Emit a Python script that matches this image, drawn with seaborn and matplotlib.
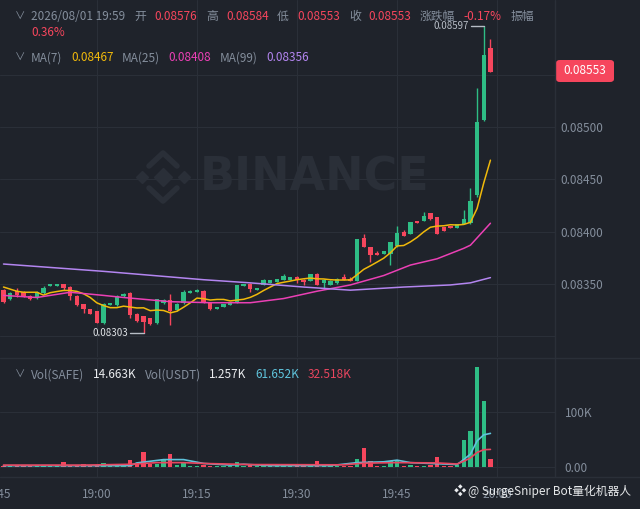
import matplotlib
matplotlib.use("Agg")
import matplotlib.pyplot as plt
import seaborn as sns
import pandas as pd
import numpy as np
from matplotlib.lines import Line2D
from matplotlib.patches import FancyBboxPatch
from matplotlib.transforms import blended_transform_factory

# 1m candles, 18:46 .. 19:59 (minutes after 18:00)
minutes = list(range(46, 120))

opens = [0.08344, 0.08336, 0.08343, 0.08342, 0.08338, 0.08337, 0.08341, 0.08348, 0.08348, 0.08350,
         0.08347, 0.08338, 0.08331, 0.08326, 0.08324, 0.08313, 0.08330, 0.08330, 0.08338, 0.08341,
         0.08321, 0.08319, 0.08317, 0.08313, 0.08332, 0.08335, 0.08325, 0.08332, 0.08341, 0.08342,
         0.08343, 0.08332, 0.08326, 0.08328, 0.08330, 0.08332, 0.08348, 0.08350, 0.08344, 0.08349,
         0.08351, 0.08352, 0.08354, 0.08354, 0.08357, 0.08354, 0.08353, 0.08359, 0.08351, 0.08349,
         0.08351, 0.08357, 0.08355, 0.08353, 0.08394, 0.08385, 0.08380, 0.08379, 0.08379, 0.08386,
         0.08400, 0.08398, 0.08410, 0.08410, 0.08418, 0.08414, 0.08404, 0.08405, 0.08403, 0.08407,
         0.08408, 0.08435, 0.08507, 0.08576]
highs = [0.08345, 0.08342, 0.08346, 0.08343, 0.08339, 0.08343, 0.08348, 0.08350, 0.08349, 0.08350,
         0.08348, 0.08339, 0.08331, 0.08326, 0.08324, 0.08332, 0.08332, 0.08339, 0.08341, 0.08342,
         0.08322, 0.08319, 0.08317, 0.08336, 0.08336, 0.08340, 0.08332, 0.08344, 0.08344, 0.08345,
         0.08344, 0.08333, 0.08328, 0.08331, 0.08333, 0.08349, 0.08350, 0.08351, 0.08346, 0.08355,
         0.08354, 0.08355, 0.08359, 0.08357, 0.08358, 0.08355, 0.08359, 0.08360, 0.08355, 0.08354,
         0.08356, 0.08359, 0.08357, 0.08393, 0.08398, 0.08385, 0.08381, 0.08381, 0.08390, 0.08405,
         0.08402, 0.08409, 0.08410, 0.08419, 0.08418, 0.08414, 0.08404, 0.08405, 0.08407, 0.08421,
         0.08442, 0.08537, 0.08597, 0.08584]
lows = [0.08332, 0.08335, 0.08337, 0.08337, 0.08335, 0.08336, 0.08340, 0.08348, 0.08348, 0.08344,
        0.08335, 0.08329, 0.08322, 0.08321, 0.08313, 0.08312, 0.08330, 0.08329, 0.08337, 0.08317,
        0.08314, 0.08303, 0.08311, 0.08312, 0.08331, 0.08311, 0.08324, 0.08331, 0.08341, 0.08342,
        0.08332, 0.08325, 0.08326, 0.08328, 0.08330, 0.08332, 0.08348, 0.08342, 0.08344, 0.08349,
        0.08351, 0.08352, 0.08354, 0.08354, 0.08351, 0.08349, 0.08353, 0.08349, 0.08345, 0.08349,
        0.08350, 0.08354, 0.08353, 0.08353, 0.08385, 0.08371, 0.08378, 0.08379, 0.08368, 0.08385,
        0.08396, 0.08398, 0.08408, 0.08410, 0.08411, 0.08398, 0.08401, 0.08403, 0.08403, 0.08407,
        0.08407, 0.08433, 0.08506, 0.08553]
closes = [0.08333, 0.08341, 0.08339, 0.08338, 0.08336, 0.08342, 0.08346, 0.08349, 0.08349, 0.08346,
          0.08338, 0.08330, 0.08326, 0.08321, 0.08313, 0.08331, 0.08332, 0.08338, 0.08340, 0.08320,
          0.08315, 0.08314, 0.08312, 0.08336, 0.08335, 0.08324, 0.08331, 0.08342, 0.08343, 0.08344,
          0.08332, 0.08326, 0.08328, 0.08331, 0.08332, 0.08349, 0.08349, 0.08345, 0.08346, 0.08354,
          0.08354, 0.08355, 0.08358, 0.08357, 0.08354, 0.08352, 0.08359, 0.08349, 0.08354, 0.08353,
          0.08355, 0.08354, 0.08353, 0.08393, 0.08385, 0.08378, 0.08378, 0.08381, 0.08390, 0.08399,
          0.08396, 0.08409, 0.08408, 0.08415, 0.08412, 0.08398, 0.08401, 0.08403, 0.08407, 0.08412,
          0.08429, 0.08505, 0.08569, 0.08553]
# Vol(SAFE) in thousands
volumes = [3, 3, 4, 1.5, 1.5, 2.5, 5, 1.5, 1.5, 10,
           4, 5, 6, 3, 2.5, 8.5, 2.5, 4, 3, 13,
           6, 27, 6, 6, 16, 25, 4, 7, 2.5, 3,
           4, 2.5, 2.5, 1.5, 2, 10, 2.5, 4, 2.5, 3,
           2.5, 2, 2, 2.5, 2, 2, 2.5, 11.5, 3, 2,
           2, 2.5, 2, 16, 36, 12, 2.5, 3, 12, 14,
           3, 4, 2.5, 2.5, 4, 19, 2.5, 1.5, 4, 50,
           66, 182, 121, 14.663]

# MA(7) before the window has enough history
ma7_head = [0.08347, 0.08345, 0.08343, 0.08342, 0.08342, 0.08342]

ma25_min = [46, 51, 56, 61, 64, 71, 77, 83, 88, 93, 98, 103, 107, 111, 115, 116, 117, 118, 119]
ma25_val = [0.08339, 0.08337, 0.08342, 0.08339, 0.08337, 0.08333, 0.08332, 0.08332, 0.08336, 0.08343,
            0.08349, 0.08358, 0.08368, 0.08374, 0.08384, 0.08387, 0.08394, 0.08401, 0.08408]
ma99_min = [46, 61, 76, 83, 91, 98, 106, 113, 116, 119]
ma99_val = [0.08369, 0.08362, 0.08354, 0.08351, 0.08347, 0.08344, 0.08347, 0.08349, 0.08351, 0.08356]

vma5_min = [46, 65, 66, 70, 73, 76, 80, 82, 86, 95, 99, 103, 105, 107, 112, 114, 115, 116, 117, 118, 119]
vma5_val = [3, 3, 8, 14, 14, 7, 4, 5.5, 3, 3, 8.5, 10, 13, 8.5, 6, 5, 14, 24, 48, 59, 61.652]
vma10_min = [46, 58, 65, 69, 73, 76, 83, 97, 100, 105, 111, 114, 115, 116, 117, 118, 119]
vma10_val = [4, 4, 5.5, 8.5, 8.5, 7, 5, 4.5, 7.5, 8.5, 8, 6, 11, 17, 27, 32, 32.518]

tick_min = [60, 75, 90, 105, 120]
tick_lab = ['19:00', '19:15', '19:30', '19:45', '20:00']
price_ticks = [0.0830, 0.0835, 0.0840, 0.0845, 0.0850, 0.0855]
price_labels = ['', '0.08350', '0.08400', '0.08450', '0.08500', '']

bg = '#1f232b'
grid = '#2a2f38'
gray = '#848e9c'
up = '#2ebd85'
down = '#f6465d'
c_ma7, c_ma25, c_ma99 = '#f0b90b', '#eb40b5', '#b385f0'
c_v5, c_v10 = '#5fc4dc', '#e8465f'

df = pd.DataFrame({'minute': minutes, 'open': opens, 'high': highs,
                   'low': lows, 'close': closes, 'vol': volumes})
df['ma7'] = df['close'].rolling(7).mean()
df.loc[0:5, 'ma7'] = ma7_head
df['color'] = np.where(df['close'] >= df['open'], up, down)

sns.set_theme(style='dark', rc={'axes.facecolor': bg, 'figure.facecolor': bg,
                                'savefig.facecolor': bg})
plt.rcParams['font.family'] = ['Noto Sans CJK SC', 'DejaVu Sans']

W, H = 640, 509
fx = lambda px: px / W
fy = lambda py: 1 - py / H

fig = plt.figure(figsize=(6.4, 5.09), dpi=100)
ax = fig.add_axes([0, fy(357), fx(555), 357 / H])
axv = fig.add_axes([0, fy(477), fx(555), (477 - 358) / H])

for a in (ax, axv):
    a.set_facecolor(bg)
    for s in a.spines.values():
        s.set_visible(False)
    a.grid(True, color=grid, lw=0.8)
    a.set_axisbelow(True)
    a.yaxis.tick_right()
    a.set_xticks(tick_min)

# candles
ax.vlines(df['minute'], df['low'], df['high'], colors=list(df['color']), lw=1)
body_bottom = df[['open', 'close']].min(axis=1)
body_h = (df['close'] - df['open']).abs().clip(lower=0.000015)
ax.bar(df['minute'], body_h, bottom=body_bottom, width=0.65,
       color=list(df['color']), linewidth=0)

sns.lineplot(x=df['minute'], y=df['ma7'], ax=ax, color=c_ma7, lw=1.1)
sns.lineplot(x=ma25_min, y=ma25_val, ax=ax, color=c_ma25, lw=1.1)
sns.lineplot(x=ma99_min, y=ma99_val, ax=ax, color=c_ma99, lw=1.1)

# high / low markers
hi = df['high'].idxmax()
lo = df['low'].idxmin()
mark = '#b7bdc6'
ax.plot([df.loc[hi, 'minute'] - 1.9, df.loc[hi, 'minute']], [df.loc[hi, 'high']] * 2, color=mark, lw=1)
ax.text(df.loc[hi, 'minute'] - 2.3, df.loc[hi, 'high'], f"{df.loc[hi, 'high']:.5f}",
        color=mark, fontsize=7, ha='right', va='center')
ax.plot([df.loc[lo, 'minute'] - 2.0, df.loc[lo, 'minute']], [df.loc[lo, 'low']] * 2, color=mark, lw=1)
ax.text(df.loc[lo, 'minute'] - 2.3, df.loc[lo, 'low'], f"{df.loc[lo, 'low']:.5f}",
        color='#dfe2e6', fontsize=7, ha='right', va='center')

k = 0.0005 / 52.3
ax.set_xlim(45.475, 128.68)
ax.set_ylim(0.085 - 230 * k, 0.085 + 127 * k)
ax.set_yticks(price_ticks)
ax.set_yticklabels(price_labels)
ax.set_xticklabels([])
ax.tick_params(length=0, colors=gray, labelsize=8.5, pad=4)
ax.set_xlabel('')
ax.set_ylabel('')

# volume
axv.bar(df['minute'], df['vol'], width=0.65, color=list(df['color']), linewidth=0)
sns.lineplot(x=vma5_min, y=vma5_val, ax=axv, color=c_v5, lw=1.2)
sns.lineplot(x=vma10_min, y=vma10_val, ax=axv, color=c_v10, lw=1.2)
axv.set_xlim(45.475, 128.68)
axv.set_ylim(-(477 - 467.3) / 55 * 100, (467.3 - 358) / 55 * 100)
axv.set_yticks([0, 100])
axv.set_yticklabels(['0.00', '100K'])
axv.set_xticklabels(tick_lab)
axv.tick_params(axis='y', length=0, colors=gray, labelsize=8.5, pad=7)
axv.tick_params(axis='x', length=0, colors=gray, labelsize=8.5, pad=8)
axv.set_xlabel('')
axv.set_ylabel('')
tr = blended_transform_factory(axv.transData, axv.transAxes)
axv.text(45, -11 / 119, '18:45', transform=tr, ha='center', va='top',
         color=gray, fontsize=8.5, clip_on=False)

# pane separators
for y0 in (357.5, 477):
    fig.add_artist(Line2D([0, 1], [fy(y0)] * 2, color=grid, lw=1, transform=fig.transFigure))
fig.add_artist(Line2D([fx(555)] * 2, [fy(477), 1], color=grid, lw=1, transform=fig.transFigure))

# watermark
wm = '#2a2f38'
fig.text(fx(200), fy(178), 'BINANCE', color=wm, fontsize=33, fontweight='bold',
         family='DejaVu Sans', ha='left', va='center', zorder=0.5)
for (px, py, ms) in [(163, 177, 9), (142, 177, 6), (184, 177, 6)]:
    fig.add_artist(Line2D([fx(px)], [fy(py)], marker='D', ms=ms, color=wm, lw=0,
                          transform=fig.transFigure, zorder=0.5))
for pts in ([(149, 166), (163, 153), (177, 166)], [(149, 188), (163, 201), (177, 188)]):
    fig.add_artist(Line2D([fx(p[0]) for p in pts], [fy(p[1]) for p in pts], color=wm, lw=4,
                          transform=fig.transFigure, zorder=0.5))

# header texts
def t(px, py, s, c=gray, fs=8.5):
    fig.text(fx(px), fy(py), s, color=c, fontsize=fs, ha='left', va='center')

t(15, 16.5, '∨', fs=7.5)
t(31, 16.5, '2026/08/01 19:59')
t(134, 16.5, '开')
t(154, 16.5, '0.08576', down)
t(206, 16.5, '高')
t(226, 16.5, '0.08584', down)
t(277, 16.5, '低')
t(297, 16.5, '0.08553', down)
t(349, 16.5, '收')
t(368, 16.5, '0.08553', down)
t(420, 16.5, '涨跌幅')
t(463, 16.5, '-0.17%', down)
t(511, 16.5, '振幅')
t(31, 32.5, '0.36%', down)

t(15, 58, '∨', fs=7.5)
t(31, 58, 'MA(7)')
t(71, 58, '0.08467', c_ma7)
t(122, 58, 'MA(25)')
t(168, 58, '0.08408', c_ma25)
t(220, 58, 'MA(99)')
t(266, 58, '0.08356', c_ma99)

t(15, 375, '∨', fs=7.5)
t(31, 375, 'Vol(SAFE)')
t(93, 375, '14.663K', '#eaecef')
t(145, 375, 'Vol(USDT)')
t(209, 375, '1.257K', '#eaecef')
t(255, 375, '61.652K', c_v5)
t(308, 375, '32.518K', c_v10)

# last price tag
fig.add_artist(FancyBboxPatch((fx(556), fy(82)), fx(58), 22 / H,
                              boxstyle='round,pad=0,rounding_size=0.006', fc=down, ec='none',
                              transform=fig.transFigure))
fig.text(fx(585), fy(71), '0.08553', color='white', fontsize=8.5, ha='center', va='center')

# footer watermark
t(454, 491, '❖', '#eaecef', fs=9)
t(468, 491, '@ SurgeSniper Bot量化机器人', '#e6e8ea', fs=8.5)

fig.savefig('out.png', dpi=100, facecolor=bg)
